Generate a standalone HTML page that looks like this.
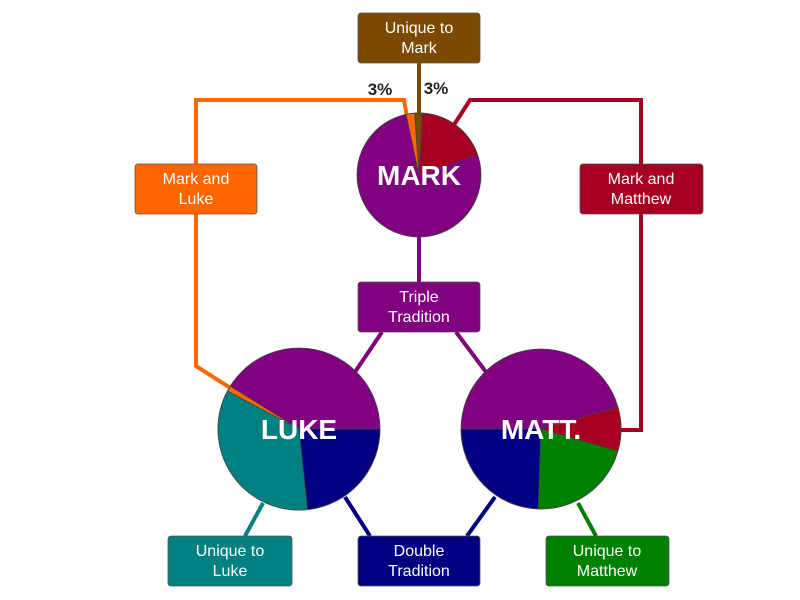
<!DOCTYPE html>
<html><head><style>body{margin:0;background:#fff}svg{display:block}</style></head><body>
<svg width="800" height="600" xmlns="http://www.w3.org/2000/svg" font-family="Liberation Sans, sans-serif">
<g fill="none" stroke-width="4">
<polyline points="407,117 404,100 196,100 196,366 282,421" stroke="#ff6600"/>
<polyline points="452,128 470,100 641,100 641,430 616,430" stroke="#a50021"/>
<line x1="419" y1="63" x2="419" y2="175" stroke="#7b4a00"/>
<line x1="419" y1="237" x2="419" y2="282" stroke="#800080"/>
<line x1="382" y1="332" x2="355" y2="372" stroke="#800080"/>
<line x1="456" y1="332" x2="486" y2="372" stroke="#800080"/>
<line x1="345" y1="497" x2="370" y2="536" stroke="#000080"/>
<line x1="495" y1="497" x2="467" y2="536" stroke="#000080"/>
<line x1="263" y1="503" x2="245" y2="536" stroke="#008080"/>
<line x1="578" y1="503" x2="596" y2="536" stroke="#008000"/>
</g>
<g stroke="#444" stroke-width="0.8">
<circle cx="419" cy="175" r="62" fill="#800080"/>
<path d="M419,175 L406.1,114.4 A62,62 0 0 1 414.7,113.2Z" fill="#ff6600"/>
<path d="M419,175 L414.7,113.2 A62,62 0 0 1 422.2,113.1Z" fill="#7b4a00"/>
<path d="M419,175 L422.2,113.1 A62,62 0 0 1 477.6,154.8Z" fill="#a50021"/>
<circle cx="299" cy="429" r="81" fill="#800080"/>
<path d="M299,429 L380,429 A81,81 0 0 1 307.5,509.6Z" fill="#000080"/>
<path d="M299,429 L307.5,509.6 A81,81 0 0 1 227.5,391Z" fill="#008080"/>
<path d="M299,429 L227.5,391 A81,81 0 0 1 230.3,386.1Z" fill="#ff6600"/>
<circle cx="541" cy="429" r="80" fill="#800080"/>
<path d="M541,429 L617.9,406.9 A80,80 0 0 1 617.9,451.1Z" fill="#a50021"/>
<path d="M541,429 L617.9,451.1 A80,80 0 0 1 538.2,508.9Z" fill="#008000"/>
<path d="M541,429 L538.2,508.9 A80,80 0 0 1 461,429Z" fill="#000080"/>
</g>
<g fill="#fff" font-weight="bold" font-size="28" text-anchor="middle">
<text x="419" y="185">MARK</text>
<text x="299" y="439">LUKE</text>
<text x="541" y="439">MATT.</text>
</g>
<g font-weight="bold" font-size="17" fill="#222" text-anchor="middle">
<text x="380" y="95">3%</text>
<text x="436" y="94">3%</text>
</g>
<g stroke="#555" stroke-width="0.8">
<rect x="358" y="13" width="122" height="50" rx="3" fill="#7b4a00"/>
<rect x="135" y="164" width="122" height="50" rx="3" fill="#ff6600"/>
<rect x="580" y="164" width="123" height="50" rx="3" fill="#a50021"/>
<rect x="358" y="282" width="122" height="50" rx="3" fill="#800080"/>
<rect x="168" y="536" width="124" height="50" rx="3" fill="#008080"/>
<rect x="358" y="536" width="122" height="50" rx="3" fill="#000080"/>
<rect x="546" y="536" width="123" height="50" rx="3" fill="#008000"/>
</g>
<g fill="#fff" font-size="16" text-anchor="middle">
<text x="419" y="33">Unique to</text><text x="419" y="53">Mark</text>
<text x="196" y="184">Mark and</text><text x="196" y="204">Luke</text>
<text x="641" y="184">Mark and</text><text x="641" y="204">Matthew</text>
<text x="419" y="302">Triple</text><text x="419" y="322">Tradition</text>
<text x="230" y="556">Unique to</text><text x="230" y="576">Luke</text>
<text x="419" y="556">Double</text><text x="419" y="576">Tradition</text>
<text x="607" y="556">Unique to</text><text x="607" y="576">Matthew</text>
</g>
</svg>
</body></html>
